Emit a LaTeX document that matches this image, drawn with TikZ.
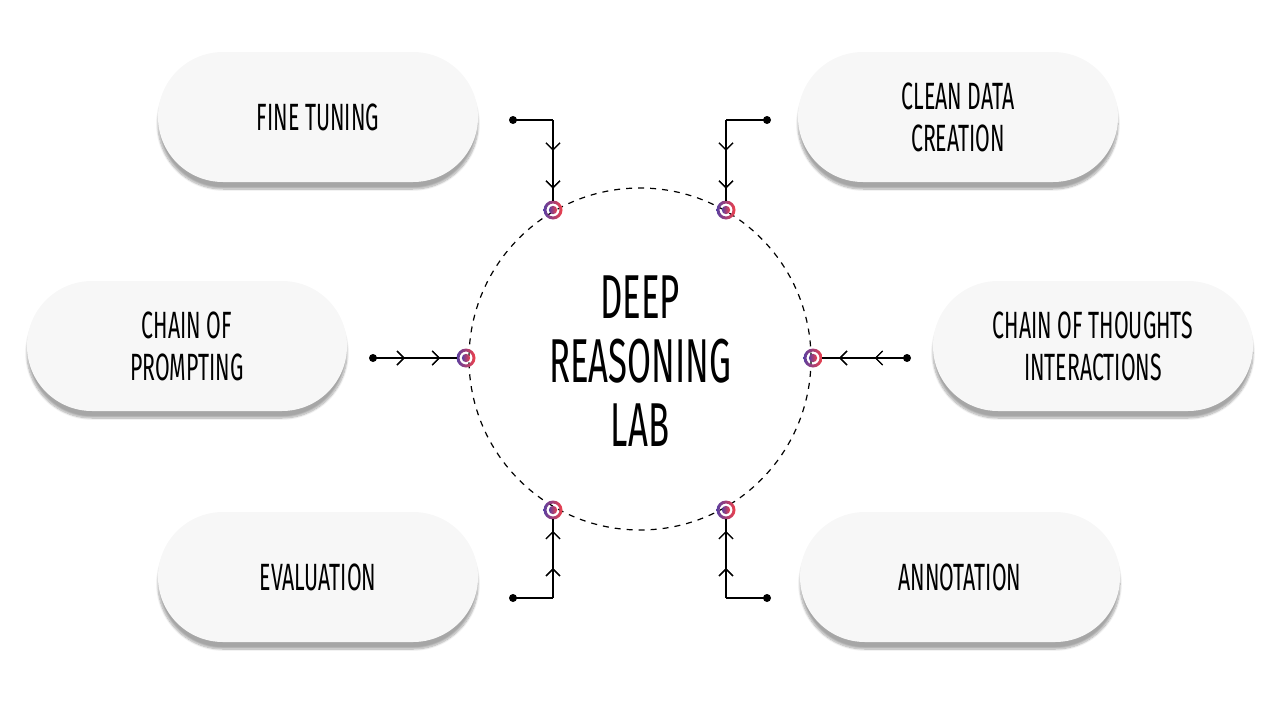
\documentclass[tikz,border=0pt]{standalone}
\usepackage{fontspec}
\setmainfont{Fira Sans}[FakeStretch=0.56]
\usetikzlibrary{shadows.blur,decorations.markings,arrows.meta}
\definecolor{pillc}{HTML}{F7F7F7}
\definecolor{rpur}{HTML}{5B3FA0}
\definecolor{rred}{HTML}{F0404A}
\begin{document}
\begin{tikzpicture}[x=1pt,y=-1pt,
  pill/.style={draw=none,fill=pillc,rounded corners=65pt,minimum width=320pt,minimum height=130pt,
    align=center,font=\fontsize{38}{42}\selectfont,
    blur shadow={shadow xshift=0pt,shadow yshift=-7pt,shadow blur steps=10,shadow opacity=35}},
  ring/.style={circle,minimum size=18pt,inner sep=0pt},
  dot/.style={circle,fill=black,minimum size=8pt,inner sep=0pt},
  conn/.style={line width=1.2pt},
  chev/.style={conn,postaction={decorate},decoration={markings,
    mark=at position #1 with {\arrow{Straight Barb[length=7pt,width=14pt,line width=1.2pt]}}}},
]
\useasboundingbox (0,0) rectangle (1280,720);
\draw[line width=1.2pt,dash pattern=on 6pt off 6pt] (640,359) circle (171);
\node[align=center,font=\fontsize{62}{64}\selectfont] (title) at (640,361) {DEEP\\REASONING\\LAB};

\node[pill] (ft) at (318,117) {FINE TUNING};
\node[pill] (cd) at (958,117) {CLEAN DATA\\CREATION};
\node[pill] (cp) at (187,346) {CHAIN OF\\PROMPTING};
\node[pill] (ct) at (1093,346) {CHAIN OF THOUGHTS\\INTERACTIONS};
\node[pill] (ev) at (318,577) {EVALUATION};
\node[pill] (an) at (960,577) {ANNOTATION};

\foreach \n/\x/\y in {r1/553/210,r2/726/210,r3/466/358,r4/813/358,r5/553/510,r6/726/510}{
  \shade[left color=rpur,right color=rred,even odd rule] (\x,\y) circle (9.5) circle (6.5);
  \shade[left color=rpur,right color=rred] (\x,\y) circle (4.2);
  \node[ring] (\n) at (\x,\y) {};
}

\node[dot] (d1) at (513,120) {};
\node[dot] (d2) at (767,120) {};
\node[dot] (d3) at (373,358) {};
\node[dot] (d4) at (907,358) {};
\node[dot] (d5) at (513,598) {};
\node[dot] (d6) at (767,598) {};
\coordinate (k1) at (553,120);
\coordinate (k2) at (726,120);
\coordinate (k5) at (553,598);
\coordinate (k6) at (726,598);

\draw[conn] (d1.center) -- (k1);
\draw[chev=0.38,chev=0.85,conn] (k1) -- (r1.north);
\draw[conn] (d2.center) -- (k2);
\draw[chev=0.38,chev=0.85,conn] (k2) -- (r2.north);
\draw[chev=0.38,chev=0.8,conn] (d3.center) -- (r3.west);
\draw[chev=0.38,chev=0.8,conn] (d4.center) -- (r4.east);
\draw[conn] (d5.center) -- (k5);
\draw[chev=0.38,chev=0.85,conn] (k5) -- (r5.south);
\draw[conn] (d6.center) -- (k6);
\draw[chev=0.38,chev=0.85,conn] (k6) -- (r6.south);
\end{tikzpicture}
\end{document}
